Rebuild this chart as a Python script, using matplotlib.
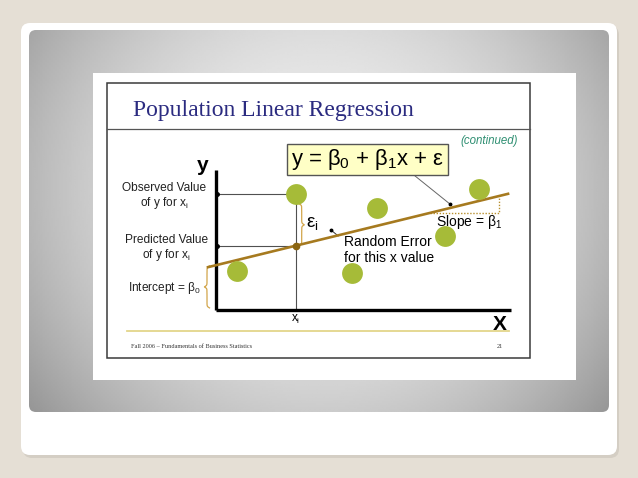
import numpy as np
import matplotlib

matplotlib.use("Agg")
import matplotlib.pyplot as plt
from matplotlib.patches import FancyBboxPatch, Rectangle

# --- diagram data (diagram units: origin at the axes corner, both axes 0..10) ---
beta0 = 3.2
beta1 = 0.515
x_points = [0.7, 2.7, 4.6, 5.45, 7.75, 8.9]
y_points = [2.8, 8.3, 2.65, 7.3, 5.3, 8.65]
x_i = 2.7
y_obs = 8.3
line_x = [-0.27, 9.9]
slope_y = 6.93
slope_x_end = 9.59

title = "Population Linear Regression"
footer = "Fall 2006 \u2013 Fundamentals of Business Statistics"
page_no = "21"

plt.rcParams.update(
    {
        "font.family": ["Liberation Sans", "DejaVu Sans"],
        "mathtext.fontset": "custom",
        "mathtext.rm": "Liberation Sans",
        "mathtext.it": "Liberation Sans:italic",
        "mathtext.bf": "Liberation Sans:bold",
    }
)

W, H = 638, 478
fig = plt.figure(figsize=(W / 100, H / 100), dpi=100)
fig.patch.set_facecolor("#e5dfd5")

# background axes in pixel units
bg = fig.add_axes([0, 0, 1, 1])
bg.set_xlim(0, W)
bg.set_ylim(H, 0)
bg.axis("off")

shadow = FancyBboxPatch((23, 26), 596, 432, boxstyle="round,pad=0,rounding_size=9",
                        facecolor="#c9c3b9", edgecolor="none", alpha=0.6)
bg.add_patch(shadow)
card = FancyBboxPatch((21, 23), 596, 432, boxstyle="round,pad=0,rounding_size=9",
                      facecolor="white", edgecolor="none")
bg.add_patch(card)

panel = FancyBboxPatch((29, 30), 580, 382, boxstyle="round,pad=0,rounding_size=7",
                       facecolor="none", edgecolor="none")
bg.add_patch(panel)
gx, gy = np.meshgrid(np.linspace(29, 609, 300), np.linspace(30, 412, 200))
r2 = ((gx - 320) / 290) ** 2 + ((gy - 190) / 280) ** 2
grad = np.clip(0.93 - 0.21 * r2, 0, 1)
im = bg.imshow(grad, cmap="gray", vmin=0, vmax=1, extent=(29, 609, 412, 30),
               interpolation="bilinear", zorder=1)
im.set_clip_path(panel)

# slide image
bg.add_patch(Rectangle((93, 73), 483, 307, facecolor="white", edgecolor="none", zorder=2))
bg.add_patch(Rectangle((107, 83), 423, 275, facecolor="none", edgecolor="#3a3a3a",
                       linewidth=1.1, zorder=3))
bg.plot([107, 530], [129, 129], color="#555555", linewidth=0.9, zorder=3)
bg.text(133, 116, title, family="Liberation Serif", fontsize=17, color="#2b2b80",
        ha="left", va="baseline", zorder=4)
bg.text(518, 141, "(continued)", fontsize=8.3, style="italic", color="#2f8f72",
        ha="right", va="center", zorder=4)
bg.plot([127, 509], [331, 331], color="#e3d68a", linewidth=1.3, zorder=3)
bg.text(131, 347, footer, family="Liberation Serif", fontsize=4.5, color="#333333",
        ha="left", va="center", zorder=4)
bg.text(503, 347, page_no, family="Liberation Serif", fontsize=4.5, color="#333333",
        ha="right", va="center", zorder=4)

# diagram axes
ax = fig.add_axes([216 / W, (H - 310) / H, 295 / W, 140 / H])
ax.set_xlim(0, 10)
ax.set_ylim(0, 10)
ax.axis("off")
ax.patch.set_alpha(0)


def brace(x, y0, y1, w, side, **kw):
    t = np.linspace(0, 0.5, 80)
    half = 1 / (1 + np.exp(-60 * t)) + 1 / (1 + np.exp(-60 * (t - 0.5))) - 0.5
    prof = np.concatenate([half, half[::-1]])
    ys = y0 + (y1 - y0) * np.linspace(0, 1, prof.size)
    ax.plot(x + side * w * prof, ys, clip_on=False, **kw)


y_pred = beta0 + beta1 * x_i
gold = "#d2a54a"
guide = "#505050"

# guide lines to the axis
ax.plot([0, x_i - 0.3], [y_obs, y_obs], color=guide, linewidth=0.8, clip_on=False)
ax.plot([0, x_i], [y_pred, y_pred], color=guide, linewidth=0.8, clip_on=False)
ax.plot([x_i, x_i], [0, y_obs - 0.6], color=guide, linewidth=0.8, clip_on=False)

# regression line
lx = np.array(line_x)
ax.plot(lx, beta0 + beta1 * lx, color="#a67a1f", linewidth=1.9, clip_on=False, zorder=3)

# slope triangle
x_run = (slope_y - beta0) / beta1
ax.plot([x_run, slope_x_end, slope_x_end], [slope_y, slope_y, beta0 + beta1 * slope_x_end],
        color="#b8902e", linewidth=1.0, linestyle=(0, (1, 1.2)), clip_on=False, zorder=2)

# data points
ax.plot(x_points, y_points, "o", markersize=15, color="#a6bb38",
        markeredgecolor="none", clip_on=False, zorder=4)
ax.plot([x_i], [y_pred], "o", markersize=4.5, color="#8a6512", clip_on=False, zorder=5)

# braces
brace(x_i + 0.12, y_pred, y_obs - 0.72, 0.17, 1, color=gold, linewidth=0.9)
brace(-0.22, 0.15, beta0 - 0.05, 0.17, -1, color=gold, linewidth=0.9)

# axes
ax.plot([0, 0], [0, 10], color="black", linewidth=2.4, solid_capstyle="butt", clip_on=False)
ax.plot([0, 10], [0, 0], color="black", linewidth=2.4, solid_capstyle="butt", clip_on=False)
ax.plot([0.05, 0.05], [y_obs, y_pred], "o", markersize=2.5, color="black", clip_on=False)

ax.text(-0.44, 10.3, "y", fontsize=15, fontweight="bold", ha="center", va="center")
ax.text(9.63, -1.0, "X", fontsize=15, fontweight="bold", ha="center", va="center")
ax.text(x_i, -0.65, r"x$_\mathrm{i}$", fontsize=8.5, ha="center", va="center")

label_kw = dict(fontsize=8.6, color="#222222", ha="center", va="center", linespacing=1.05)
ax.text(-1.75, y_obs - 0.2, "Observed Value\nof y for x$_\\mathrm{i}$", **label_kw)
ax.text(-1.69, y_pred - 0.2, "Predicted Value\nof y for x$_\\mathrm{i}$", **label_kw)
ax.text(-0.5, 1.57, "Intercept = \u03b2$_0$", fontsize=8.6, color="#222222",
        ha="right", va="center")

ax.text(3.25, 6.2, "\u03b5$_\\mathrm{i}$", fontsize=13.5, ha="center", va="center")
ax.text(4.34, 5.35, "Random Error\nfor this x value", fontsize=10, ha="left", va="top",
        linespacing=1.2)
ax.plot([4.14, 3.9], [5.29, 5.71], color="#333333", linewidth=0.7, clip_on=False)
ax.plot([3.9], [5.71], "o", markersize=1.8, color="black", clip_on=False)
ax.text(7.45, 6.3, "Slope = \u03b2$_1$", fontsize=10, ha="left", va="center")

# equation box
ax.add_patch(Rectangle((2.41, 9.64), 5.45, 2.22, facecolor="#ffffc6", edgecolor="#555555",
                       linewidth=1.0, clip_on=False, zorder=5))
ax.text(5.13, 10.72, "y = \u03b2$_0$ + \u03b2$_1$x + \u03b5", fontsize=15.8, ha="center",
        va="center", zorder=6)
ax.plot([6.75, 7.93], [9.57, 7.57], color="#666666", linewidth=0.7, clip_on=False)
ax.plot([7.93], [7.57], "o", markersize=1.8, color="black", clip_on=False)

fig.savefig("out.png", dpi=100)
